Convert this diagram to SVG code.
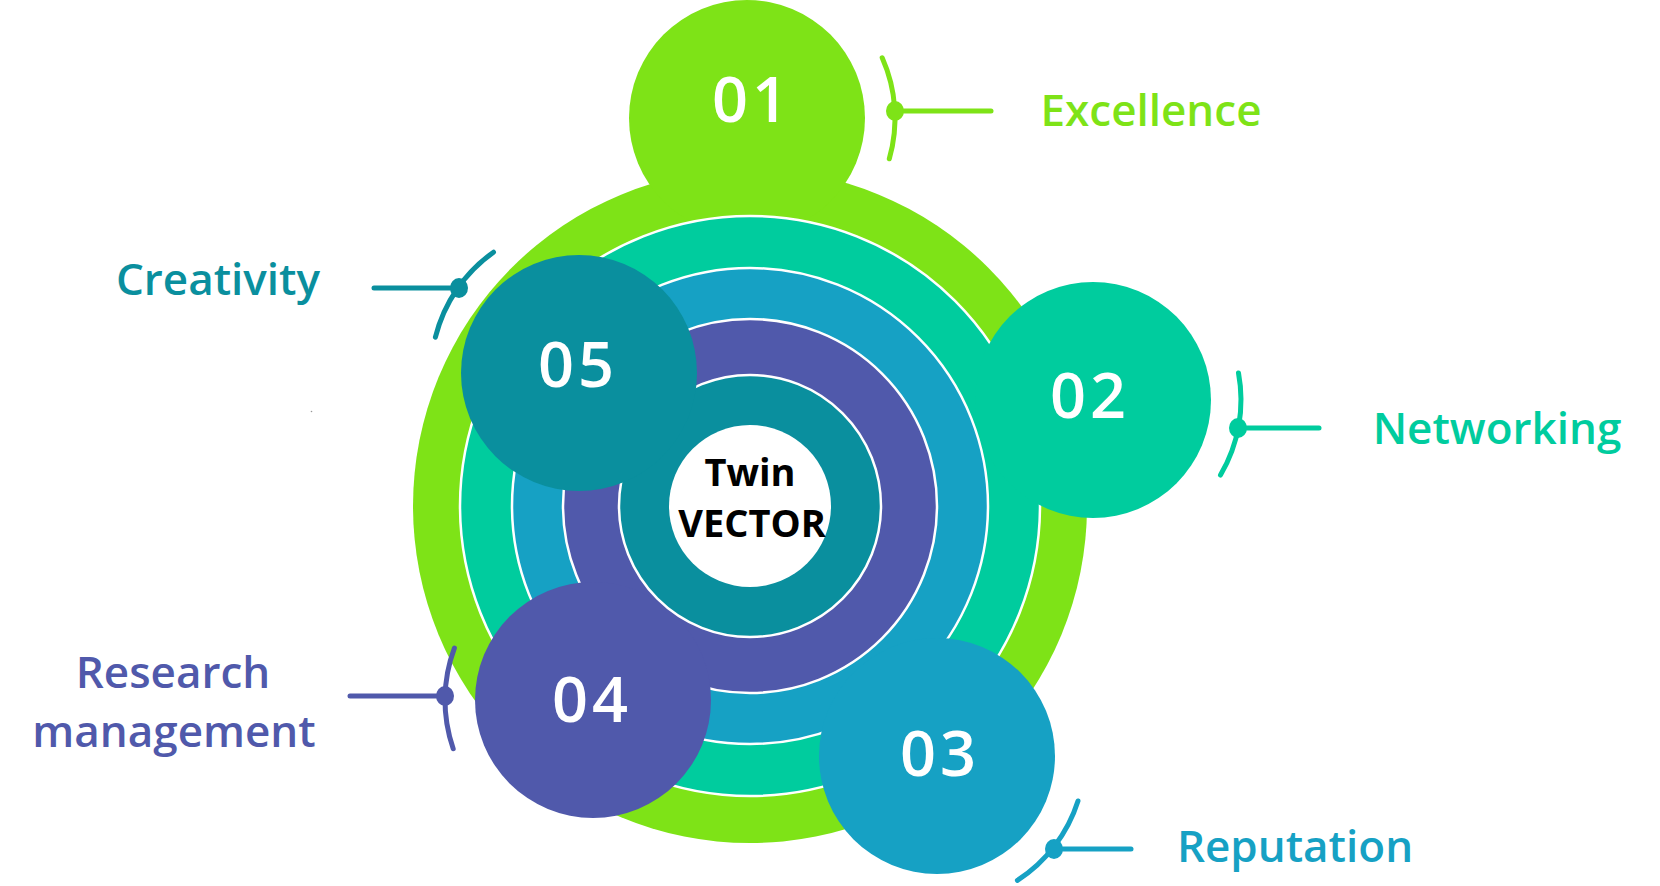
<svg xmlns="http://www.w3.org/2000/svg" width="1660" height="886" viewBox="0 0 1660 886">
<style>
.ring{stroke:#ffffff;stroke-width:2.5}
.num{font-family:"Open Sans","Liberation Sans",sans-serif;font-weight:600;font-size:63px;fill:#ffffff;text-anchor:middle;letter-spacing:4px}
.lbl{font-family:"Open Sans","Liberation Sans",sans-serif;font-weight:600;font-size:44px;text-anchor:middle}
.ctr{font-family:"Open Sans","Liberation Sans",sans-serif;font-weight:700;font-size:38px;fill:#000000;text-anchor:middle}
.arc{fill:none;stroke-width:5;stroke-linecap:round}
</style>
<rect width="1660" height="886" fill="#ffffff"/>
<g id="rings">
  <g id="node-01">
    <circle cx="750" cy="506" r="337" fill="#7EE317"/>
    <circle cx="747" cy="118" r="118" fill="#7EE317"/>
  </g>
  <g id="node-02">
    <circle class="ring" cx="750" cy="506" r="290" fill="#00CC9E"/>
    <circle cx="1093" cy="400" r="118" fill="#00CC9E"/>
  </g>
  <g id="node-03">
    <circle class="ring" cx="750" cy="506" r="238" fill="#16A1C4"/>
    <circle cx="937" cy="756" r="118" fill="#16A1C4"/>
  </g>
  <g id="node-04">
    <circle class="ring" cx="750" cy="506" r="187" fill="#5059AB"/>
    <circle cx="593" cy="700" r="118" fill="#5059AB"/>
  </g>
  <g id="node-05">
    <circle class="ring" cx="750" cy="506" r="131" fill="#0A8F9E"/>
    <circle cx="579" cy="373" r="118" fill="#0A8F9E"/>
  </g>
  <g id="center">
    <circle cx="750" cy="506" r="81" fill="#ffffff"/>
    <text class="ctr" x="750" y="486">Twin</text>
    <text class="ctr" x="752" y="537">VECTOR</text>
  </g>
  <g id="numbers">
    <text class="num" x="752" y="122">01</text>
    <text class="num" x="1090" y="418">02</text>
    <text class="num" x="940" y="776">03</text>
    <text class="num" x="592" y="722">04</text>
    <text class="num" x="578" y="387">05</text>
  </g>
</g>
<g id="connectors">
  <path class="arc" stroke="#7EE317" d="M882.2,57.8 A148,148 0 0 1 889.3,158.8"/>
  <line class="arc" stroke="#7EE317" x1="895" y1="111" x2="991" y2="111"/>
  <ellipse cx="895" cy="111" rx="9" ry="10" fill="#7EE317"/>

  <path class="arc" stroke="#00CC9E" d="M1238.5,373 A148,148 0 0 1 1220.5,475.1"/>
  <line class="arc" stroke="#00CC9E" x1="1238" y1="428" x2="1319" y2="428"/>
  <ellipse cx="1238" cy="428" rx="9" ry="10" fill="#00CC9E"/>

  <path class="arc" stroke="#16A1C4" d="M1078,801 A148,148 0 0 1 1017.4,880.3"/>
  <line class="arc" stroke="#16A1C4" x1="1054" y1="849" x2="1131" y2="849"/>
  <ellipse cx="1054" cy="849" rx="9" ry="10" fill="#16A1C4"/>

  <path class="arc" stroke="#5059AB" d="M454.4,648.2 A148,148 0 0 0 453.2,748.7"/>
  <line class="arc" stroke="#5059AB" x1="350" y1="696" x2="445" y2="696"/>
  <ellipse cx="445" cy="696" rx="9" ry="10" fill="#5059AB"/>

  <path class="arc" stroke="#0A8F9E" d="M493.5,252.2 A148,148 0 0 0 435.4,337.2"/>
  <line class="arc" stroke="#0A8F9E" x1="374" y1="288" x2="459" y2="288"/>
  <ellipse cx="459" cy="288" rx="9" ry="10" fill="#0A8F9E"/>
</g>
<g id="labels">
  <text class="lbl" fill="#7EE317" x="1151" y="126">Excellence</text>
  <text class="lbl" fill="#00CC9E" x="1497" y="444">Networking</text>
  <text class="lbl" fill="#16A1C4" x="1295" y="862">Reputation</text>
  <text class="lbl" fill="#5059AB" x="173" y="688">Research</text>
  <text class="lbl" fill="#5059AB" x="174" y="747">management</text>
  <text class="lbl" fill="#0A8F9E" x="218" y="295">Creativity</text>
</g>
<circle cx="311.5" cy="411.5" r="0.8" fill="#999999"/>
</svg>
